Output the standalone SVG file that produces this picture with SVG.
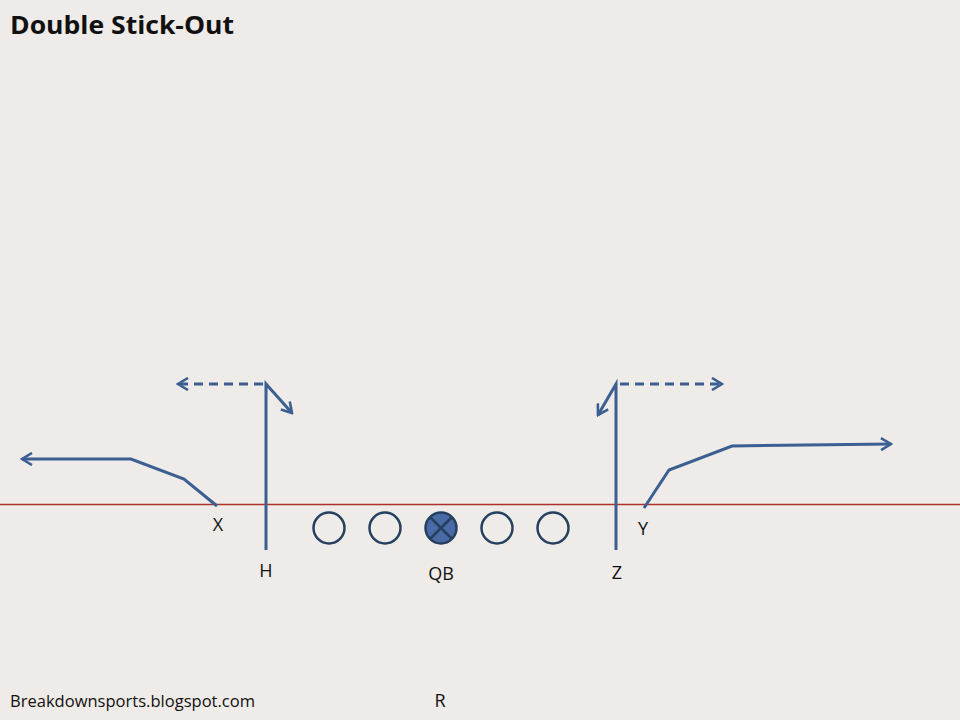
<svg xmlns="http://www.w3.org/2000/svg" width="960" height="720" viewBox="0 0 960 720">
<style>
.route{fill:none;stroke:#3C5F92;stroke-width:3;stroke-linejoin:miter}
.dash{stroke-dasharray:9 6}
.lineman{fill:none;stroke:#25405F;stroke-width:2.5}
.lbl{font-family:"Open Sans","Liberation Sans",sans-serif;font-size:18px;fill:#111;text-anchor:middle}
</style>
<defs>
<marker id="arr" viewBox="0 0 14 14" refX="12" refY="7" markerWidth="14" markerHeight="14" markerUnits="userSpaceOnUse" orient="auto">
<path d="M2,1 L12,7 L2,13" fill="none" stroke="#3C5F92" stroke-width="2.6"/>
</marker>
</defs>
<rect width="960" height="720" fill="#EEEBE8"/>
<text x="10" y="34" font-family="Open Sans, Liberation Sans, sans-serif" font-weight="bold" font-size="25" fill="#111" textLength="224" lengthAdjust="spacingAndGlyphs">Double Stick-Out</text>
<line x1="0" y1="504.5" x2="960" y2="504.5" stroke="#B0302A" stroke-width="1.3"/>
<g id="connectors">
<polyline class="route" points="217,506 184,479 131,459 22,459" marker-end="url(#arr)"/>
<polyline class="route" points="266,550 266,384 292,413" marker-end="url(#arr)"/>
<line class="route dash" x1="263" y1="384" x2="178" y2="384" marker-end="url(#arr)"/>
<polyline class="route" points="616,550 616,384 598,415" marker-end="url(#arr)"/>
<line class="route dash" x1="620" y1="384" x2="722" y2="384" marker-end="url(#arr)"/>
<polyline class="route" points="644,508 669,470 732,446 891,444" marker-end="url(#arr)"/>
</g>
<g id="LT"><circle class="lineman" cx="329" cy="528" r="15.5"/></g>
<g id="LG"><circle class="lineman" cx="385" cy="528" r="15.5"/></g>
<g id="C"><circle cx="441" cy="528" r="15.5" fill="#4A6AA5" stroke="#25405F" stroke-width="2.5"/>
<path d="M430,517 L452,539 M452,517 L430,539" stroke="#25405F" stroke-width="2.5"/></g>
<g id="RG"><circle class="lineman" cx="497" cy="528" r="15.5"/></g>
<g id="RT"><circle class="lineman" cx="553" cy="528" r="15.5"/></g>
<g id="X"><text class="lbl" x="218" y="531">X</text></g>
<g id="H"><text class="lbl" x="266" y="577">H</text></g>
<g id="QB"><text class="lbl" x="441" y="580">QB</text></g>
<g id="Z"><text class="lbl" x="617" y="579">Z</text></g>
<g id="Y"><text class="lbl" x="643" y="535">Y</text></g>
<g id="R"><text class="lbl" x="440" y="707">R</text></g>
<text x="10" y="707" font-family="Open Sans, Liberation Sans, sans-serif" font-size="15.5" fill="#111" textLength="245" lengthAdjust="spacingAndGlyphs">Breakdownsports.blogspot.com</text>
</svg>
